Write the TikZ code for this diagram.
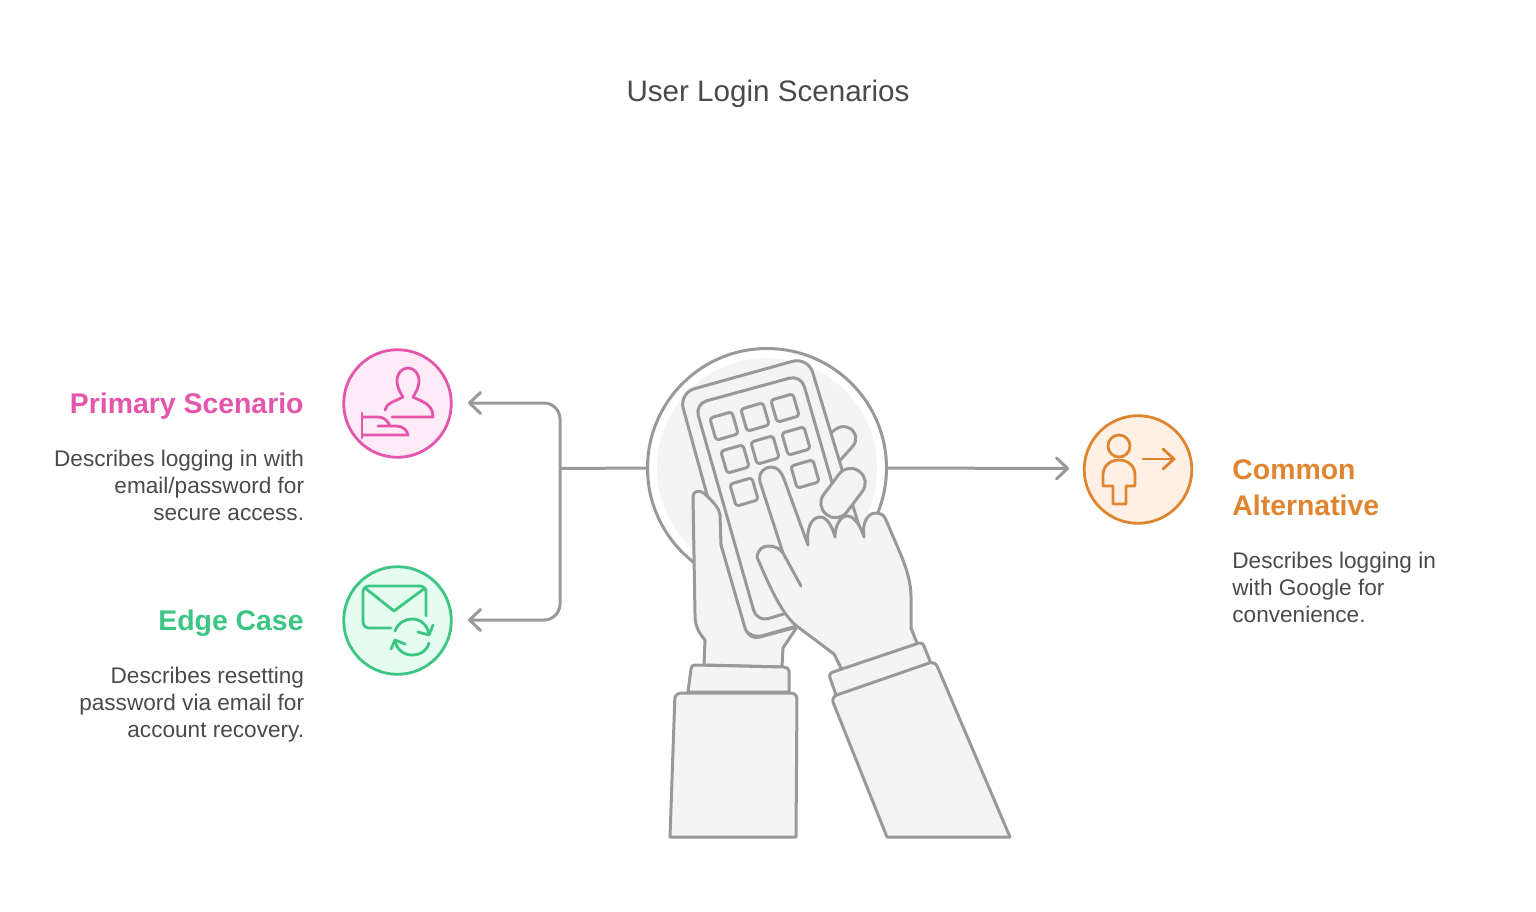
\documentclass[tikz,border=0pt]{standalone}
\usepackage{fontspec}
\setmainfont{Liberation Sans}
\usetikzlibrary{arrows.meta, positioning}
\definecolor{lineg}{HTML}{999999}
\definecolor{paleg}{HTML}{F4F4F4}
\definecolor{inkg}{HTML}{4A4A4A}
\definecolor{pinkc}{HTML}{E356AC}
\definecolor{pinkf}{HTML}{FDEBF7}
\definecolor{greenc}{HTML}{3CC583}
\definecolor{greenf}{HTML}{E5FCF0}
\definecolor{orangec}{HTML}{E0852F}
\definecolor{orangef}{HTML}{FEF0E4}
\tikzset{badge/.style={draw, circle, inner sep=0pt, minimum size=53.8pt, line width=1.4pt}}
\tikzset{glyph/.style={line width=1.4pt, line cap=round, line join=round}}
\tikzset{link/.style={draw=lineg, line width=1.5pt, rounded corners=8pt}}
\tikzset{linkarrow/.style={link, -{Straight Barb[length=5.5pt, width=10.5pt, line width=1.5pt, round]}}}
\tikzset{sketch/.style={draw=lineg, fill=paleg, line width=1.5pt, line join=round, line cap=round}}
\tikzset{keycap/.style={sketch, inner sep=0pt, minimum size=11.5pt, rounded corners=1.5pt, rotate=16}}
\tikzset{headtext/.style={font=\fontsize{14.2}{18}\selectfont\bfseries, anchor=base east, align=right, inner sep=0pt}}
\tikzset{bodytext/.style={font=\fontsize{11.3}{13.5}\selectfont, text=inkg, anchor=north east, align=right, inner sep=0pt}}
\begin{document}
\begin{tikzpicture}[x=0.5pt, y=-0.5pt]
            \useasboundingbox (0, 0) rectangle (1536, 911);

            \node [font=\fontsize{14.8}{18}\selectfont, text=inkg] (title) at (768, 94) {User Login Scenarios};

            % backdrop
            \node [draw=lineg, fill=white, circle, inner sep=0pt, minimum size=119.5pt, line width=1.5pt] (hub) at (767, 468) {};
            \node [fill=paleg, circle, inner sep=0pt, minimum size=110pt] (hubfill) at (767, 468) {};

            % badges
            \node [badge, draw=pinkc, fill=pinkf] (primary) at (397.5, 403.5) {};
            \node [badge, draw=greenc, fill=greenf] (edgecase) at (397.5, 620.5) {};
            \node [badge, draw=orangec, fill=orangef] (alternative) at (1138, 469.5) {};

            % finger behind the phone
            \draw [sketch] (828, 436) .. controls (834, 429) and (842, 424) .. (849, 428) .. controls (856, 431) and (858, 440) .. (853, 446) -- (836, 465) -- cycle;

            % phone
            \draw [sketch, rounded corners=8pt] (679, 393) -- (808, 357) -- (882, 602) -- (747, 640) -- cycle;
            \draw [sketch, rounded corners=6pt] (695, 404) -- (801, 375) -- (863, 590) -- (757, 622) -- cycle;

            \foreach \kx/\ky [count=\i] in {724/426, 755/417, 785/408, 735/459, 765/450, 796/441, 744/492, 805/474}
                \node [keycap] (key\i) at (\kx, \ky) {};

            % left hand
            \draw [sketch] (704, 665) -- (705, 640) .. controls (698, 632) and (695, 625) .. (695, 615) -- (693, 496) .. controls (695, 488) and (703, 491) .. (708, 497) .. controls (714, 503) and (719, 508) .. (720, 515) -- (721, 545) -- (745, 628) .. controls (748, 636) and (754, 639) .. (760, 637) -- (797, 627) -- (783, 648) -- (782, 667) -- cycle;

            \draw [sketch] (688, 692) -- (691, 669) .. controls (691, 666) and (693, 665) .. (695, 665) -- (784, 667) .. controls (787, 667) and (789, 669) .. (789, 671) -- (789, 692) -- cycle;
            \draw [sketch] (670, 837) [rounded corners=3pt] -- (675, 693) -- (797, 693) [sharp corners] -- (796, 837) -- cycle;

            % right hand
            \draw [sketch] (757, 557) .. controls (758, 549) and (763, 546) .. (769, 546) .. controls (775, 546) and (780, 549) .. (783, 553) -- (760, 482) .. controls (758, 472) and (765, 467) .. (771, 467) .. controls (778, 467) and (782, 473) .. (784, 479) -- (808, 545) .. controls (806, 530) and (811, 517) .. (820, 517) .. controls (827, 517) and (832, 526) .. (835, 537) .. controls (835, 525) and (841, 515) .. (848, 516) .. controls (855, 517) and (861, 527) .. (864, 537) .. controls (862, 525) and (866, 514) .. (875, 513) .. controls (881, 513) and (884, 515) .. (886, 520) -- (901, 555) .. controls (907, 570) and (911, 583) .. (911, 597) -- (911, 628) -- (917, 643) -- (925, 655) -- (845, 680) -- (841, 668) -- (834, 654) -- (798, 627) .. controls (783, 616) and (771, 590) .. cycle;
            \draw [sketch, fill=none] (783, 553) -- (801, 586);

            % front finger
            \draw [sketch, rotate around={53:(843, 493)}, rounded corners=7pt] (816, 478.5) rectangle (870, 507.5);

            % cuffs of the right hand
            \draw [sketch] (835, 692) -- (830, 678) .. controls (829, 675) and (830, 673) .. (833, 672) -- (919, 643) .. controls (922, 643) and (923, 643) .. (924, 646) -- (930, 661) -- (934, 672) -- (838, 705) -- cycle;
            \draw [sketch] (887, 837) [rounded corners=3pt] -- (831, 697) -- (935, 661) [sharp corners] -- (1010, 837) -- cycle;

            % connectors
            \coordinate (trunk) at (560, 468.5);
            \coordinate (primaryend) at (468, 403);
            \coordinate (edgeend) at (468, 620);
            \coordinate (altend) at (1069, 468.5);
            \draw [link] (hub.west) -- (trunk);
            \draw [linkarrow] (trunk) |- (primaryend);
            \draw [linkarrow] (trunk) |- (edgeend);
            \draw [linkarrow] (hub.east) -- (altend);

            % primary glyph
            \draw [glyph, pinkc] (385, 410) .. controls (386, 403) and (396, 401) .. (403, 397) .. controls (400, 392) and (397, 387) .. (397, 381) .. controls (397, 373) and (402, 368) .. (408, 368) .. controls (414, 368) and (419, 373) .. (419, 381) .. controls (419, 387) and (416, 392) .. (413, 397) .. controls (420, 401) and (433, 403) .. (433, 417) -- (392, 417);
            \draw [glyph, pinkc] (362, 413) -- (362, 438);
            \draw [glyph, pinkc] (363, 417) -- (378, 417) .. controls (384, 417) and (388, 421) .. (390, 426) -- (378, 426);
            \draw [glyph, pinkc] (390, 426) -- (396, 426) .. controls (403, 426) and (407, 430) .. (408, 435) -- (363, 435);

            % edge case glyph
            \draw [glyph, greenc, rounded corners=3pt] (391, 628) -- (363, 628) -- (363, 586) -- (426, 586) -- (426, 616);
            \draw [glyph, greenc] (365, 588) -- (394, 611) -- (425, 588);
            \draw [glyph, greenc] (395, 631) .. controls (398, 623) and (405, 619) .. (412, 619) .. controls (420, 619) and (427, 624) .. (429, 634);
            \draw [glyph, greenc] (418, 632) -- (429, 635) -- (433, 625);
            \draw [glyph, greenc] (429, 643) .. controls (427, 651) and (420, 655) .. (412, 655) .. controls (404, 655) and (397, 650) .. (395, 641);
            \draw [glyph, greenc] (391, 649) -- (395, 640) -- (405, 644);

            % alternative glyph
            \draw [glyph, orangec] (1119, 446) circle [radius=11pt/2];
            \draw [glyph, orangec] (1103, 486) -- (1103, 475) .. controls (1103, 466) and (1110, 460) .. (1119, 460) .. controls (1128, 460) and (1135, 466) .. (1135, 475) -- (1135, 486) -- (1126, 486) -- (1126, 504) -- (1113, 504) -- (1113, 486) -- cycle;
            \draw [glyph, orangec] (1143, 459) -- (1174, 459);
            \draw [glyph, orangec] (1163, 449) -- (1174, 459) -- (1163, 469);

            % texts
            \node [headtext, text=pinkc] (primaryhead) at (304, 413.5) {Primary Scenario};
            \node [bodytext] (primarybody) at (304.5, 450) {Describes logging in with\\email/password for\\secure access.};
            \node [headtext, text=greenc] (edgehead) at (304, 630.5) {Edge Case};
            \node [bodytext] (edgebody) at (304.5, 667) {Describes resetting\\password via email for\\account recovery.};
            \node [headtext, text=orangec, anchor=north west, align=left] (althead) at (1232, 459.5) {Common\\Alternative};
            \node [bodytext, anchor=north west, align=left] (altbody) at (1232, 552) {Describes logging in\\with Google for\\convenience.};
        \end{tikzpicture}
\end{document}
